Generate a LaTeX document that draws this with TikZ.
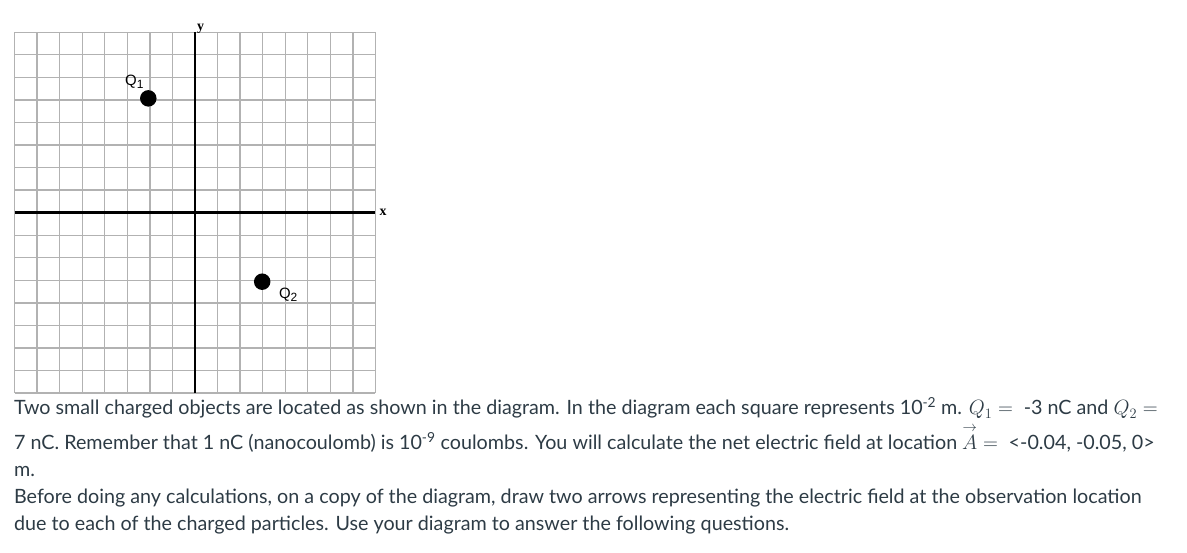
\documentclass[tikz,border=0pt]{standalone}
\usepackage{amsmath}
\usepackage{fontspec}
\setmainfont{Lato}
\newfontfamily\labelfont{Liberation Sans}
\newfontfamily\axisfont{Liberation Serif}
\usetikzlibrary{positioning}
\definecolor{textgray}{RGB}{45,59,69}
\definecolor{gridgray}{RGB}{178,178,178}

\begin{document}
\begin{tikzpicture}[x=22.55bp,y=22.55bp]
  \tikzstyle{grid line}=[draw=gridgray,line width=1.3bp]
  \tikzstyle{axis}=[draw=black,line width=2.6bp]
  \tikzstyle{charge}=[circle,fill=black,inner sep=0pt,minimum size=16.5bp]
  \tikzstyle{charge label}=[inner sep=0pt,font=\labelfont\fontsize{15}{15}\selectfont]
  \tikzstyle{axis label}=[inner sep=0pt,font=\axisfont\bfseries\fontsize{14}{14}\selectfont]
  \tikzstyle{text line}=[anchor=base west,inner sep=0pt,text=textgray,
                         font=\fontsize{19.8}{19.8}\selectfont]
  \useasboundingbox (-8.647,-15.09) rectangle (43.99,9.432);
  \foreach \i in {-8,...,8} {
    \draw[grid line] (\i,-8) -- (\i,8);
    \draw[grid line] (-8,\i) -- (8,\i);
  }
  \coordinate (xstart) at (-8,0);
  \coordinate (xend) at (8,0);
  \coordinate (ystart) at (0,-8);
  \coordinate (yend) at (0,8);
  \draw[axis] (xstart) -- (xend);
  \draw[axis] (ystart) -- (yend);
  \node[axis label] (xlab) [right=4bp of xend] {x};
  \node[axis label] (ylab) [above right=-1bp and 2bp of yend] {y};
  \node[charge] (q1) at (-2.07,5.07) {};
  \node[charge] (q2) at (2.98,-3.06) {};
  \node[charge label] (q1lab) at ([shift={(-14bp,17bp)}]q1) {Q\raisebox{-3bp}{\fontsize{12}{12}\selectfont 1}};
  \node[charge label] (q2lab) at ([shift={(26bp,-13bp)}]q2) {Q\raisebox{-3bp}{\fontsize{12}{12}\selectfont 2}};
  \coordinate (text) at (-8.03,-8.97);
  \node[text line] (line1) at (text) {Two small charged objects are located as shown in the diagram. In the diagram each square represents 10\textsuperscript{-2} m. $Q_1 = {}$ -3 nC and $Q_2 = {}$};
  \node[text line] (line2) at ([yshift=-35bp]text) {7 nC. Remember that 1 nC (nanocoulomb) is 10\textsuperscript{-9} coulombs. You will calculate the net electric field at location $\overset{\rightarrow}{A} = {}$ <-0.04, -0.05, 0>};
  \node[text line] (line3) at ([yshift=-62bp]text) {m.};
  \node[text line] (line4) at ([yshift=-88.5bp]text) {Before doing any calculations, on a copy of the diagram, draw two arrows representing the electric field at the observation location};
  \node[text line] (line5) at ([yshift=-115.5bp]text) {due to each of the charged particles. Use your diagram to answer the following questions.};
\end{tikzpicture}
\end{document}
